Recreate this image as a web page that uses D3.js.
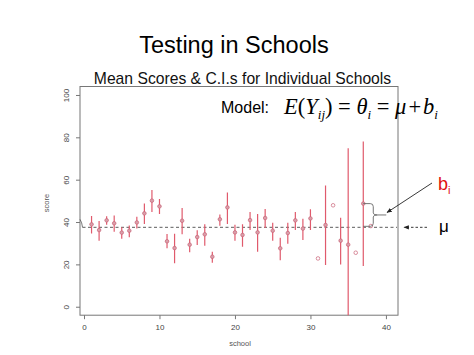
<!DOCTYPE html>
<html><head><meta charset="utf-8">
<script src="https://cdn.jsdelivr.net/npm/d3@7"></script>
<style>
html,body{margin:0;padding:0;background:#fff;}
svg{display:block;font-family:"Liberation Sans",Arial,sans-serif;}
</style></head>
<body>
<script>
const schools = d3.range(1, 39);
const means = [38.9,36.2,40.8,39.4,35.0,35.9,39.8,44.1,50.1,47.4,30.9,27.7,40.6,29.3,32.9,34.2,23.6,41.3,46.9,35.1,
               33.9,40.9,35.1,41.9,35.9,27.6,34.8,40.8,36.9,41.7,22.8,38.6,47.9,31.2,29.3,25.5,48.7,38.1];
const lower = [34.6,31.2,38.7,35.4,32.1,32.8,37.0,39.1,44.7,43.8,27.6,20.5,34.2,25.7,29.1,28.8,20.8,38.3,39.1,31.2,
               28.3,36.2,26.0,37.2,31.2,22.0,29.8,36.2,31.5,36.2,null,19.7,null,20.0,-20,null,19.2,null];
const upper = [42.8,40.5,42.7,43.1,37.5,38.4,42.5,48.8,55.1,50.9,34.3,34.5,46.6,32.1,36.1,38.9,26.0,43.5,54.0,38.7,
               38.9,44.7,43.8,46.1,39.7,32.6,39.7,44.7,41.6,46.0,null,57.2,null,42.0,74.8,null,78.0,null];
const mu = 37.5;
const xTicks = [0,10,20,30,40];
const yTicks = [0,20,40,60,80,100];

const W = 474, H = 355;
const svg = d3.select("body").append("svg").attr("width", W).attr("height", H);

const x = d3.scaleLinear().domain([-0.53, 41.6]).range([80, 398]);
const y = d3.scaleLinear().domain([-4, 104]).range([315.2, 86.5]);

// titles
svg.append("text").attr("x", 234).attr("y", 53).attr("text-anchor", "middle")
  .attr("font-size", 23.5).attr("fill", "#000").text("Testing in Schools");
svg.append("text").attr("x", 242.5).attr("y", 84).attr("text-anchor", "middle")
  .attr("font-size", 15.7).attr("fill", "#111").text("Mean Scores & C.I.s for Individual Schools");

// clip
svg.append("defs").append("clipPath").attr("id", "plotclip")
  .append("rect").attr("x", 80).attr("y", 86.5).attr("width", 318).attr("height", 228.7);
svg.select("defs").append("marker").attr("id", "arr").attr("viewBox", "0 0 10 10")
  .attr("refX", 9).attr("refY", 5).attr("markerWidth", 6).attr("markerHeight", 6)
  .attr("orient", "auto-start-reverse")
  .append("path").attr("d", "M0,1 L10,5 L0,9 z").attr("fill", "#222");

// box
svg.append("rect").attr("x", 80).attr("y", 86.5).attr("width", 318).attr("height", 228.7)
  .attr("fill", "none").attr("stroke", "#777").attr("stroke-width", 1);

// axes
const xAxis = svg.append("g").attr("transform", "translate(0,315.2)")
  .call(d3.axisBottom(x).tickValues(xTicks).tickSize(4).tickPadding(5));
xAxis.select(".domain").remove();
xAxis.selectAll("line").attr("stroke", "#777");
xAxis.selectAll("text").attr("font-size", 8).attr("fill", "#444")
  .attr("font-family", "Liberation Sans, Arial, sans-serif");

const yAxis = svg.append("g").attr("transform", "translate(80,0)")
  .call(d3.axisLeft(y).tickValues(yTicks).tickSize(4));
yAxis.select(".domain").remove();
yAxis.selectAll("line").attr("stroke", "#777");
yAxis.selectAll("text").attr("font-size", 8).attr("fill", "#444")
  .attr("font-family", "Liberation Sans, Arial, sans-serif")
  .attr("transform", "rotate(-90)").attr("x", 0).attr("y", -11).attr("dy", 0)
  .attr("text-anchor", "middle");

svg.append("text").attr("x", 240).attr("y", 346).attr("text-anchor", "middle")
  .attr("font-size", 7.5).attr("fill", "#555").text("school");
svg.append("text").attr("transform", "translate(49,203) rotate(-90)").attr("text-anchor", "middle")
  .attr("font-size", 7.5).attr("fill", "#555").text("score");

// mu dashed line
svg.append("line").attr("x1", 82.5).attr("x2", 397).attr("y1", y(mu)).attr("y2", y(mu))
  .attr("stroke", "#333").attr("stroke-width", 0.8).attr("stroke-dasharray", "3,2.5");
svg.append("path").attr("d", `M80,${y(mu)-8} Q82,${y(mu)-5} 82.5,${y(mu)}`)
  .attr("fill", "none").attr("stroke", "#555").attr("stroke-width", 0.8);

const data = schools.map((s, i) => ({s, m: means[i], lo: lower[i], hi: upper[i]}));
const plot = svg.append("g").attr("clip-path", "url(#plotclip)");
plot.selectAll("line.ci").data(data.filter(d => d.lo !== null)).join("line").attr("class", "ci")
  .attr("x1", d => x(d.s)).attr("x2", d => x(d.s))
  .attr("y1", d => y(d.lo)).attr("y2", d => y(d.hi))
  .attr("stroke", "#e05a6c").attr("stroke-width", 1.2);
plot.selectAll("circle.pt").data(data).join("circle").attr("class", "pt")
  .attr("cx", d => x(d.s)).attr("cy", d => y(d.m)).attr("r", 1.8)
  .attr("fill", d => d.lo !== null ? "#d9a0aa" : "#fff")
  .attr("stroke", "#c86075").attr("stroke-width", 0.7);

// model formula
const mt = svg.append("text").attr("x", 221).attr("y", 113).attr("font-size", 16).attr("fill", "#000");
mt.append("tspan").text("Model:");
const ft = svg.append("text").attr("x", 284).attr("y", 114).attr("font-size", 22.5)
  .attr("font-family", "Liberation Serif, Times New Roman, serif").attr("fill", "#000")
  .attr("xml:space", "preserve").style("white-space", "pre");
ft.append("tspan").attr("font-style", "italic").text("E");
ft.append("tspan").text("(");
ft.append("tspan").attr("font-style", "italic").text("Y");
ft.append("tspan").attr("font-style", "italic").attr("font-size", 13).attr("dy", 5).text("ij");
ft.append("tspan").attr("dy", -5).text(") = ");
ft.append("tspan").attr("font-style", "italic").text("θ");
ft.append("tspan").attr("font-style", "italic").attr("font-size", 13).attr("dy", 5).text("i");
ft.append("tspan").attr("dy", -5).text(" = ");
ft.append("tspan").attr("font-style", "italic").text("μ");
ft.append("tspan").attr("dx", 2).text("+");
ft.append("tspan").attr("dx", 2).attr("font-style", "italic").text("b");
ft.append("tspan").attr("font-style", "italic").attr("font-size", 13).attr("dy", 5).text("i");

// brace between school 37 mean and mu
const bx = x(37), yt = y(means[36]), yb = y(mu) - 1;
const ym = (yt + yb) / 2;
svg.append("path")
  .attr("d", `M${bx},${yt} L${bx+7},${yt} Q${bx+10},${yt} ${bx+10},${yt+3} L${bx+10},${ym-2} Q${bx+10},${ym} ${bx+14},${ym} L${bx+23},${ym}
    M${bx+14},${ym} Q${bx+10},${ym} ${bx+10},${ym+2} L${bx+10},${yb-3} Q${bx+10},${yb} ${bx+7},${yb} L${bx},${yb}`)
  .attr("fill", "none").attr("stroke", "#666").attr("stroke-width", 0.9);

// arrow to brace
svg.append("line").attr("x1", 432).attr("y1", 183).attr("x2", 387).attr("y2", 212.5)
  .attr("stroke", "#222").attr("stroke-width", 0.9).attr("marker-end", "url(#arr)");
// dashed arrow to mu line
svg.append("line").attr("x1", 427).attr("y1", y(mu)).attr("x2", 404).attr("y2", y(mu))
  .attr("stroke", "#222").attr("stroke-width", 0.9).attr("stroke-dasharray", "2.5,2")
  .attr("marker-end", "url(#arr)");

// labels
const bl = svg.append("text").attr("x", 438).attr("y", 190).attr("font-size", 18).attr("fill", "#e01010");
bl.append("tspan").text("b");
bl.append("tspan").attr("font-size", 11).attr("dy", 4).text("i");
svg.append("text").attr("x", 439).attr("y", 232).attr("font-size", 17).attr("fill", "#000").text("μ");
</script>
</body></html>
